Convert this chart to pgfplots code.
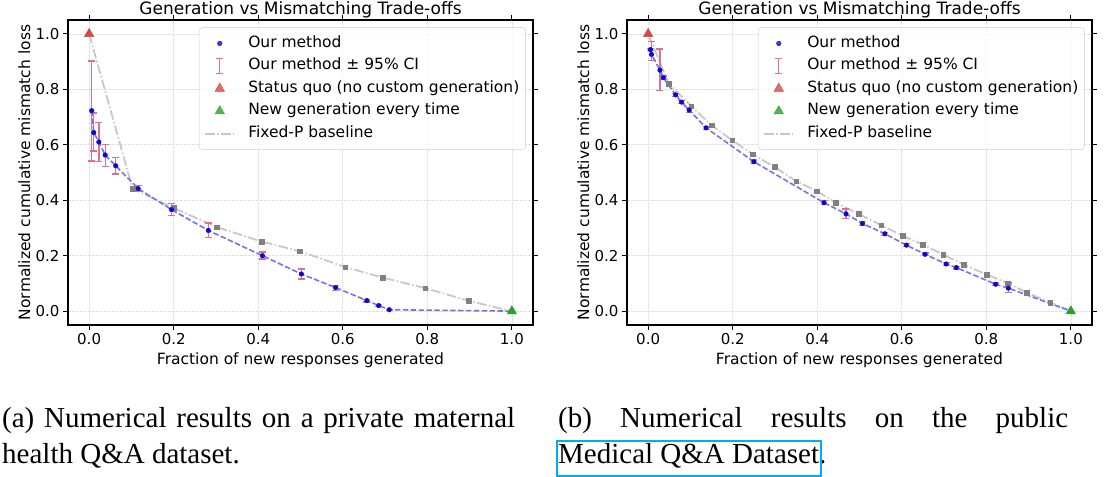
\documentclass[border=0pt]{standalone}
\usepackage{fontspec}
\setmainfont{DejaVu Sans}
\newfontfamily\capfont{Liberation Serif}
\usepackage{pgfplots}
\usepackage{pgfplotstable}
\pgfplotsset{compat=1.18}

\definecolor{ourblue}{RGB}{10,10,215}
\definecolor{ourline}{RGB}{115,115,235}
\definecolor{pinkc}{RGB}{219,112,147}
\definecolor{sqred}{RGB}{214,72,70}
\definecolor{sqgreen}{RGB}{44,160,44}
\definecolor{fixline}{RGB}{200,200,200}
\definecolor{fixsq}{RGB}{128,128,128}

% left panel: our method (x, y, CI plus, CI minus)
\pgfplotstableread{
x y ep em
0.006 0.723 0.179 0.182
0.011 0.644 0.071 0.067
0.023 0.610 0.070 0.071
0.038 0.563 0.039 0.042
0.063 0.524 0.031 0.029
0.116 0.442 0.012 0.009
0.195 0.366 0.023 0.020
0.282 0.291 0.027 0.026
0.410 0.200 0.013 0.012
0.502 0.134 0.018 0.018
0.583 0.085 0.007 0.010
0.657 0.038 0.005 0.005
0.685 0.020 0.004 0.004
0.710 0.005 0.002 0.002
}\leftours
\pgfplotstableread{
x y
0.006 0.723
0.011 0.644
0.023 0.610
0.038 0.563
0.063 0.524
0.116 0.442
0.195 0.366
0.282 0.291
0.410 0.200
0.502 0.134
0.583 0.085
0.657 0.038
0.685 0.020
0.710 0.005
1.000 0.000
}\leftline
\pgfplotstableread{
x y
0.000 1.000
0.103 0.441
0.200 0.372
0.302 0.303
0.408 0.251
0.498 0.216
0.606 0.159
0.694 0.121
0.795 0.083
0.898 0.037
1.000 0.000
}\leftfix
\pgfplotstableread{
x y
0.103 0.441
0.200 0.372
0.302 0.303
0.408 0.251
0.498 0.216
0.606 0.159
0.694 0.121
0.795 0.083
0.898 0.037
}\leftfixsq

% right panel
\pgfplotstableread{
x y ep em
0.0055 0.943 0.004 0.004
0.008 0.926 0.047 0.022
0.028 0.869 0.076 0.073
0.036 0.842 0.006 0.006
0.065 0.780 0.006 0.006
0.079 0.754 0.005 0.005
0.097 0.725 0.008 0.008
0.137 0.661 0.005 0.005
0.250 0.539 0.006 0.006
0.416 0.391 0.007 0.007
0.468 0.351 0.017 0.017
0.507 0.316 0.007 0.007
0.560 0.279 0.005 0.005
0.611 0.238 0.006 0.006
0.655 0.205 0.005 0.005
0.705 0.170 0.006 0.006
0.729 0.157 0.005 0.005
0.822 0.097 0.005 0.005
0.852 0.083 0.019 0.015
}\rightours
\pgfplotstableread{
x y
0.0055 0.943
0.008 0.926
0.028 0.869
0.036 0.842
0.065 0.780
0.079 0.754
0.097 0.725
0.137 0.661
0.250 0.539
0.416 0.391
0.468 0.351
0.507 0.316
0.560 0.279
0.611 0.238
0.655 0.205
0.705 0.170
0.729 0.157
0.822 0.097
0.852 0.083
1.000 0.000
}\rightline
\pgfplotstableread{
x y
0.000 1.000
0.049 0.820
0.102 0.739
0.150 0.670
0.199 0.616
0.247 0.566
0.299 0.520
0.350 0.469
0.399 0.433
0.444 0.391
0.498 0.351
0.551 0.310
0.602 0.272
0.650 0.240
0.698 0.204
0.746 0.168
0.801 0.132
0.851 0.101
0.896 0.067
0.951 0.031
1.000 0.000
}\rightfix
\pgfplotstableread{
x y
0.049 0.820
0.102 0.739
0.150 0.670
0.199 0.616
0.247 0.566
0.299 0.520
0.350 0.469
0.399 0.433
0.444 0.391
0.498 0.351
0.551 0.310
0.602 0.272
0.650 0.240
0.698 0.204
0.746 0.168
0.801 0.132
0.851 0.101
0.896 0.067
0.951 0.031
}\rightfixsq
\pgfplotstableread{
x y
0 1
}\sqpt
\pgfplotstableread{
x y
1 0
}\newpt

\pgfplotsset{
  common/.style={
    anchor=south west, scale only axis, width=465bp, height=305bp,
    xmin=-0.05, xmax=1.05, ymin=-0.05, ymax=1.05,
    xtick={0,0.2,0.4,0.6,0.8,1.0}, ytick={0,0.2,0.4,0.6,0.8,1.0},
    xticklabels={0.0,0.2,0.4,0.6,0.8,1.0}, yticklabels={0.0,0.2,0.4,0.6,0.8,1.0},
    grid=major, major grid style={black!12, dash pattern=on 2.5bp off 1.5bp, line width=0.6bp},
    axis line style={black, line width=1.1bp},
    tick align=outside, major tick length=5bp, tick style={black, line width=1bp},
    tick label style={font=\fontsize{15bp}{18bp}\selectfont},
    every axis title shift=0pt,
    title={Generation vs Mismatching Trade-offs},
    title style={at={(axis description cs:0.5,1.0164)}, anchor=base, font=\fontsize{17bp}{20bp}\selectfont},
    xlabel={Fraction of new responses generated},
    xlabel style={at={(axis description cs:0.5,-0.1279)}, anchor=base, font=\fontsize{15.5bp}{18bp}\selectfont},
    ylabel={Normalized cumulative mismatch loss},
    ylabel style={at={(axis description cs:-0.0817,0.5)}, anchor=base, font=\fontsize{15.5bp}{18bp}\selectfont},
    legend cell align=left,
    legend image code/.code={\path[draw=none, fill=none, use as bounding box] (0bp,-5bp) rectangle (43bp,5bp);
      \draw[mark repeat=2,mark phase=2,##1] plot coordinates {(0bp,0bp) (14.5bp,0bp) (29bp,0bp)};},
    legend style={at={(1,1)}, anchor=north east, xshift=-7.5bp, yshift=-7.5bp,
      draw=black!20, rounded corners=3bp, fill=white, fill opacity=0.8, text opacity=1,
      font=\fontsize{15.5bp}{18bp}\selectfont, inner xsep=6bp, inner ysep=6.5bp, row sep=4.1bp,
      nodes={inner xsep=0bp, inner ysep=2bp, text height=11bp, text depth=3.5bp}},
  },
  fixstyle/.style={fixline, line width=1.8bp, dash pattern=on 9.6bp off 2.4bp on 1.5bp off 2.4bp},
  linestyle/.style={ourline, line width=1.6bp, dash pattern=on 5.5bp off 2.4bp},
  errstyle/.style={pinkc, only marks, mark=none, forget plot,
    error bars/.cd, y dir=both, y explicit,
    error bar style={draw=pinkc, line width=1.3bp, solid},
    error mark options={draw=pinkc, mark size=3.5bp, line width=1.3bp, rotate=90, solid}},
}

\newcommand{\legendentries}{%
  \addlegendimage{only marks, mark=*, mark size=2.3bp, ourblue}
  \addlegendentry{Our method}
  \addlegendimage{legend image code/.code={\path[draw=none, fill=none, use as bounding box] (0bp,-5bp) rectangle (43bp,5bp);
      \draw[pinkc, line width=1.3bp] (14.5bp,-7.5bp) -- (14.5bp,7.5bp) (11bp,-7.5bp) -- (18bp,-7.5bp) (11bp,7.5bp) -- (18bp,7.5bp);}}
  \addlegendentry{Our method ± 95\% CI}
  \addlegendimage{only marks, mark=triangle*, mark size=5.5bp, sqred}
  \addlegendentry{Status quo (no custom generation)}
  \addlegendimage{only marks, mark=triangle*, mark size=5.5bp, sqgreen}
  \addlegendentry{New generation every time}
  \addlegendimage{fixstyle, no marks}
  \addlegendentry{Fixed-P baseline}
}

\begin{document}
\begin{tikzpicture}
\useasboundingbox (0,0) rectangle (1110bp,477bp);

\begin{axis}[common, at={(68bp,152bp)}]
  \addplot[fixstyle, no marks, forget plot] table {\leftfix};
  \addplot[only marks, mark=square*, mark size=2.3bp, fixsq, forget plot] table {\leftfixsq};
  \addplot[errstyle] table[x=x, y=y, y error plus=ep, y error minus=em] {\leftours};
  \addplot[linestyle, no marks, forget plot] table {\leftline};
  \addplot[only marks, mark=*, mark size=2.3bp, ourblue, forget plot] table[x=x,y=y] {\leftours};
  \addplot[only marks, mark=triangle*, mark size=5.5bp, sqred, forget plot] table {\sqpt};
  \addplot[only marks, mark=triangle*, mark size=5.5bp, sqgreen, forget plot] table {\newpt};
  \legendentries
\end{axis}

\begin{axis}[common, at={(627bp,152bp)}]
  \addplot[fixstyle, no marks, forget plot] table {\rightfix};
  \addplot[only marks, mark=square*, mark size=2.3bp, fixsq, forget plot] table {\rightfixsq};
  \addplot[errstyle] table[x=x, y=y, y error plus=ep, y error minus=em] {\rightours};
  \addplot[linestyle, no marks, forget plot] table {\rightline};
  \addplot[only marks, mark=*, mark size=2.3bp, ourblue, forget plot] table[x=x,y=y] {\rightours};
  \addplot[only marks, mark=triangle*, mark size=5.5bp, sqred, forget plot] table {\sqpt};
  \addplot[only marks, mark=triangle*, mark size=5.5bp, sqgreen, forget plot] table {\newpt};
  \legendentries
\end{axis}

\begin{scope}[every node/.style={inner sep=0, font=\capfont\fontsize{29bp}{35bp}\selectfont}]
  \node[anchor=base west] at (2bp,49bp) {\makebox[513bp][s]{(a) Numerical results on a private maternal}};
  \node[anchor=base west] at (2bp,14bp) {health Q\&A dataset.};
  \node[anchor=base west] at (558bp,49bp) {\makebox[510bp][s]{(b) Numerical results on the public}};
  \node[anchor=base west] at (558bp,14bp) {Medical Q\&A Dataset.};
\end{scope}
\draw[cyan, line width=2bp] (557bp,1bp) rectangle (821bp,36bp);
\end{tikzpicture}
\end{document}
